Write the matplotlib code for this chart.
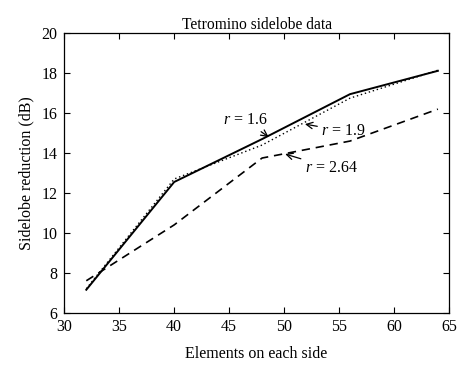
import matplotlib
matplotlib.use('Agg')
import matplotlib.pyplot as plt

# Dati
elements = [32, 40, 48, 56, 64]
r_16 = [7.15, 12.55, 14.7, 16.95, 18.12]
r_19 = [7.2, 12.7, 14.4, 16.75, 18.15]
r_264 = [7.6, 10.4, 13.75, 14.6, 16.2]

plt.rcParams['font.family'] = ['Liberation Serif', 'DejaVu Serif']
plt.rcParams['mathtext.fontset'] = 'custom'
plt.rcParams['mathtext.it'] = 'Liberation Serif:italic'
plt.rcParams['mathtext.rm'] = 'Liberation Serif'

fig = plt.figure(figsize=(4.74, 3.72), dpi=100)
ax = fig.add_axes([0.1357, 0.1594, 0.8113, 0.7511])

ax.plot(elements, r_16, color='black', linestyle='-', linewidth=1.4)
ax.plot(elements, r_19, color='black', linestyle=(0, (1, 2)), linewidth=1.0)
ax.plot(elements, r_264, color='black', linestyle=(0, (5, 3.5)), linewidth=1.2)

ax.set_xlim(30, 65)
ax.set_ylim(6, 20)
ax.set_xticks(range(30, 66, 5))
ax.set_yticks(range(6, 21, 2))
ax.tick_params(direction='in', top=True, right=True, length=4, labelsize=11.5, width=0.8)
ax.tick_params(axis='x', pad=4.5)
ax.tick_params(axis='y', pad=5)
for s in ax.spines.values():
    s.set_linewidth(0.9)

ax.set_title('Tetromino sidelobe data', fontsize=11.2, pad=3)
ax.set_xlabel('Elements on each side', fontsize=11.5, labelpad=8)
ax.set_ylabel('Sidelobe reduction (dB)', fontsize=11.5, labelpad=5)

# Etichette con frecce
arrow = dict(arrowstyle='->', color='black', linewidth=0.9, shrinkA=1, shrinkB=0)
ax.annotate('$r$ = 1.6', xy=(48.6, 14.8), xytext=(44.4, 15.65), fontsize=11.5,
            ha='left', va='center', arrowprops=arrow)
ax.annotate('$r$ = 1.9', xy=(51.9, 15.45), xytext=(53.4, 15.1), fontsize=11.5,
            ha='left', va='center', arrowprops=arrow)
ax.annotate('$r$ = 2.64', xy=(50.1, 13.95), xytext=(51.9, 13.25), fontsize=11.5,
            ha='left', va='center', arrowprops=arrow)

fig.savefig('out.png', dpi=100)
